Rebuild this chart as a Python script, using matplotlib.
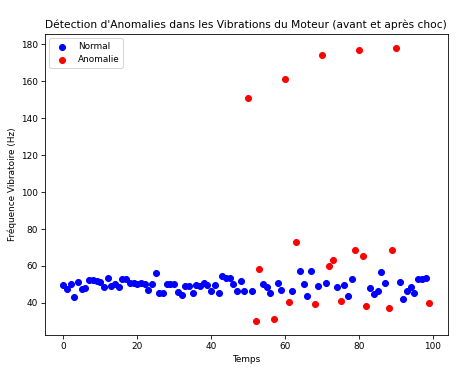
import matplotlib
matplotlib.use("Agg")
import matplotlib.pyplot as plt

# temps et fréquence des points normaux
normal_t = list(range(0, 50)) + [51, 54, 55, 56, 58, 59, 62, 64, 65, 66, 67, 69, 71,
                                 74, 76, 77, 78, 83, 84, 85, 86, 87,
                                 91, 92, 93, 94, 95, 96, 97, 98]
normal_f = [49.8, 47.6, 50.2, 43.1, 51.2, 47.6, 48.3, 52.3, 52.5, 52.0,
            51.2, 48.5, 53.7, 49.2, 50.1, 48.5, 52.9, 52.9, 51.0, 51.0,
            50.1, 51.0, 50.1, 46.9, 50.3, 56.1, 45.6, 45.3, 50.3, 50.3,
            50.1, 45.7, 44.5, 49.2, 49.2, 45.6, 49.9, 49.2, 50.7, 49.9,
            46.7, 49.6, 45.3, 54.7, 53.4, 53.4, 50.3, 46.7, 52.1, 46.2,
            46.2, 50.1, 48.5, 45.3, 51.0, 47.1, 46.2, 57.3, 50.2, 43.9,
            57.4, 49.2, 50.8, 48.5, 49.8, 43.8, 52.9, 48.0, 44.7, 46.5,
            56.6, 50.7, 51.2, 42.3, 46.7, 48.5, 45.6, 52.9, 53.0, 53.4]

# anomalies (après le choc)
anom_t = [50, 52, 53, 57, 60, 61, 63, 68, 70, 72, 73, 75, 79, 80, 81, 82,
          88, 89, 90, 99]
anom_f = [151.1, 30.1, 58.6, 31.2, 161.0, 40.4, 72.9, 39.5, 174.0, 60.1,
          63.3, 41.1, 68.4, 177.1, 65.5, 38.4, 37.1, 68.8, 178.2, 39.8]

plt.rcParams['font.size'] = 8.6

fig = plt.figure(figsize=(6.4, 5), dpi=74)
ax = fig.add_axes([0.095, 0.095, 0.85, 0.813])
ax.scatter(normal_t, normal_f, color='blue', s=34, label='Normal')
ax.scatter(anom_t, anom_f, color='red', s=34, label='Anomalie')
ax.set_title("Détection d'Anomalies dans les Vibrations du Moteur (avant et après choc)",
             fontsize=10.4)
ax.set_xlabel("Temps")
ax.set_ylabel("Fréquence Vibratoire (Hz)")
ax.legend(loc='upper left')

plt.savefig("out.png", dpi=74)
